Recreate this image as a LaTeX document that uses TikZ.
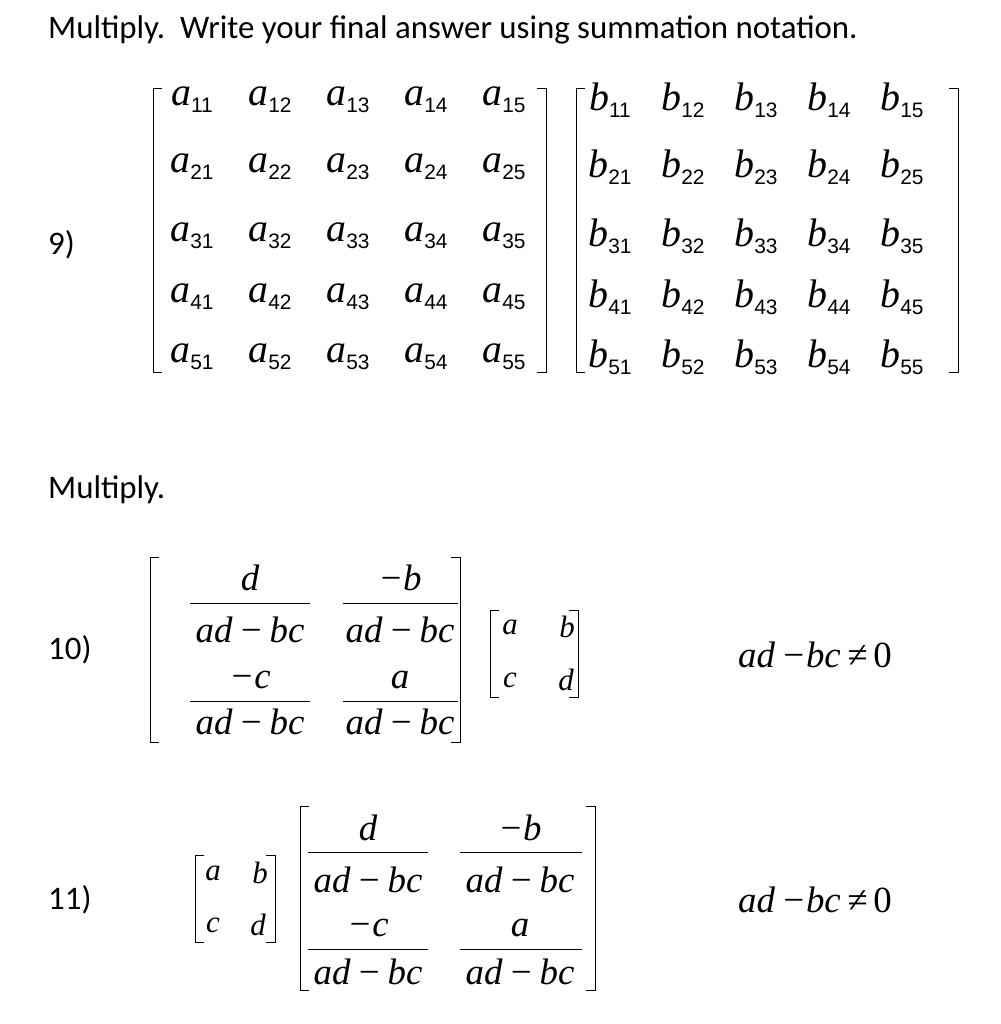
\documentclass[tikz,border=0pt]{standalone}
\usepackage{fontspec}
\newfontfamily\tnr{Liberation Serif}
\newfontfamily\calf{Carlito}
\newfontfamily\subf{Liberation Sans}
\newcommand{\ent}[2]{{\tnr\itshape #1}\kern0pt\raisebox{-0.4ex}{\subf\fontsize{21}{21}\selectfont #2}}
\begin{document}
\begin{tikzpicture}[x=1bp,y=-1bp,
  lab/.style={anchor=west,font=\calf\fontsize{33}{36}\selectfont,inner sep=0},
  ent/.style={font=\fontsize{40}{42}\selectfont,inner sep=0},
  fr/.style={font=\tnr\fontsize{37}{40}\selectfont\itshape,inner sep=0},
  sm/.style={font=\tnr\fontsize{31}{33}\selectfont\itshape,inner sep=0},
  br/.style={line width=0.9bp}]
\useasboundingbox (0,0) rectangle (1001,1024);
\node[lab] (t1) at (48,30) {Multiply.\ \ Write your final answer using summation notation.};
\node[lab] (n9) at (48,245) {9)};
\node[lab] (t2) at (48,490) {Multiply.};
\node[lab] (n10) at (48,650) {10)};
\node[lab] (n11) at (48,900) {11)};
\newcommand{\lbr}[3]{\draw[br] (#1+9,#2)--(#1,#2)--(#1,#3)--(#1+9,#3);}
\newcommand{\rbr}[3]{\draw[br] (#1-9,#2)--(#1,#2)--(#1,#3)--(#1-9,#3);}
\lbr{153}{88}{372}\rbr{546}{88}{372}
\lbr{576}{88}{372}\rbr{958}{88}{372}
\foreach \r/\y in {1/100,2/167,3/236,4/297,5/357}{
  \foreach \c/\x in {1/192,2/270,3/348,4/426,5/504}{
    \node[ent] (a\r\c) at (\x,\y) {\ent{a}{\r\c}};}
  \foreach \c/\x in {1/610,2/683,3/756,4/829,5/902}{
    \node[ent] (b\r\c) at (\x,\y) {\ent{b}{\r\c}};}
}
% problem 10
\lbr{150}{557}{742}\rbr{460}{557}{742}
\node[fr] (d1) at (250,578) {d};
\draw[br] (190,603)--(310,603);
\node[fr] (q1) at (250,630) {ad\,−\,bc};
\node[fr] (c1) at (250,680) {−c};
\draw[br] (190,701)--(310,701);
\node[fr] (q2) at (250,722) {ad\,−\,bc};
\node[fr] (b1) at (400,578) {−b};
\draw[br] (343,603)--(458,603);
\node[fr] (q3) at (400,630) {ad\,−\,bc};
\node[fr] (a1) at (400,680) {a};
\draw[br] (343,701)--(458,701);
\node[fr] (q4) at (400,722) {ad\,−\,bc};
\lbr{490}{610}{697}\rbr{578}{610}{697}
\node[sm] (sa) at (510,627) {a};
\node[sm] (sb) at (567,627) {b};
\node[sm] (sc) at (510,680) {c};
\node[sm] (sd) at (566,680) {d};
\node[fr] (cond1) at (815,655) {ad\,−bc\,≠\,\upshape 0};
% problem 11
\lbr{195}{855}{942}\rbr{275}{855}{942}
\node[sm] (ta) at (213,873) {a};
\node[sm] (tb) at (260,873) {b};
\node[sm] (tc) at (213,925) {c};
\node[sm] (td) at (258,925) {d};
\lbr{300}{806}{990}\rbr{595}{806}{990}
\node[fr] (d2) at (368,828) {d};
\draw[br] (308,852)--(428,852);
\node[fr] (r1) at (368,880) {ad\,−\,bc};
\node[fr] (c2) at (368,928) {−c};
\draw[br] (308,949)--(428,949);
\node[fr] (r2) at (368,972) {ad\,−\,bc};
\node[fr] (b2) at (520,828) {−b};
\draw[br] (460,852)--(582,852);
\node[fr] (r3) at (520,880) {ad\,−\,bc};
\node[fr] (a2) at (520,928) {a};
\draw[br] (460,949)--(582,949);
\node[fr] (r4) at (520,972) {ad\,−\,bc};
\node[fr] (cond2) at (815,900) {ad\,−bc\,≠\,\upshape 0};
\end{tikzpicture}
\end{document}
